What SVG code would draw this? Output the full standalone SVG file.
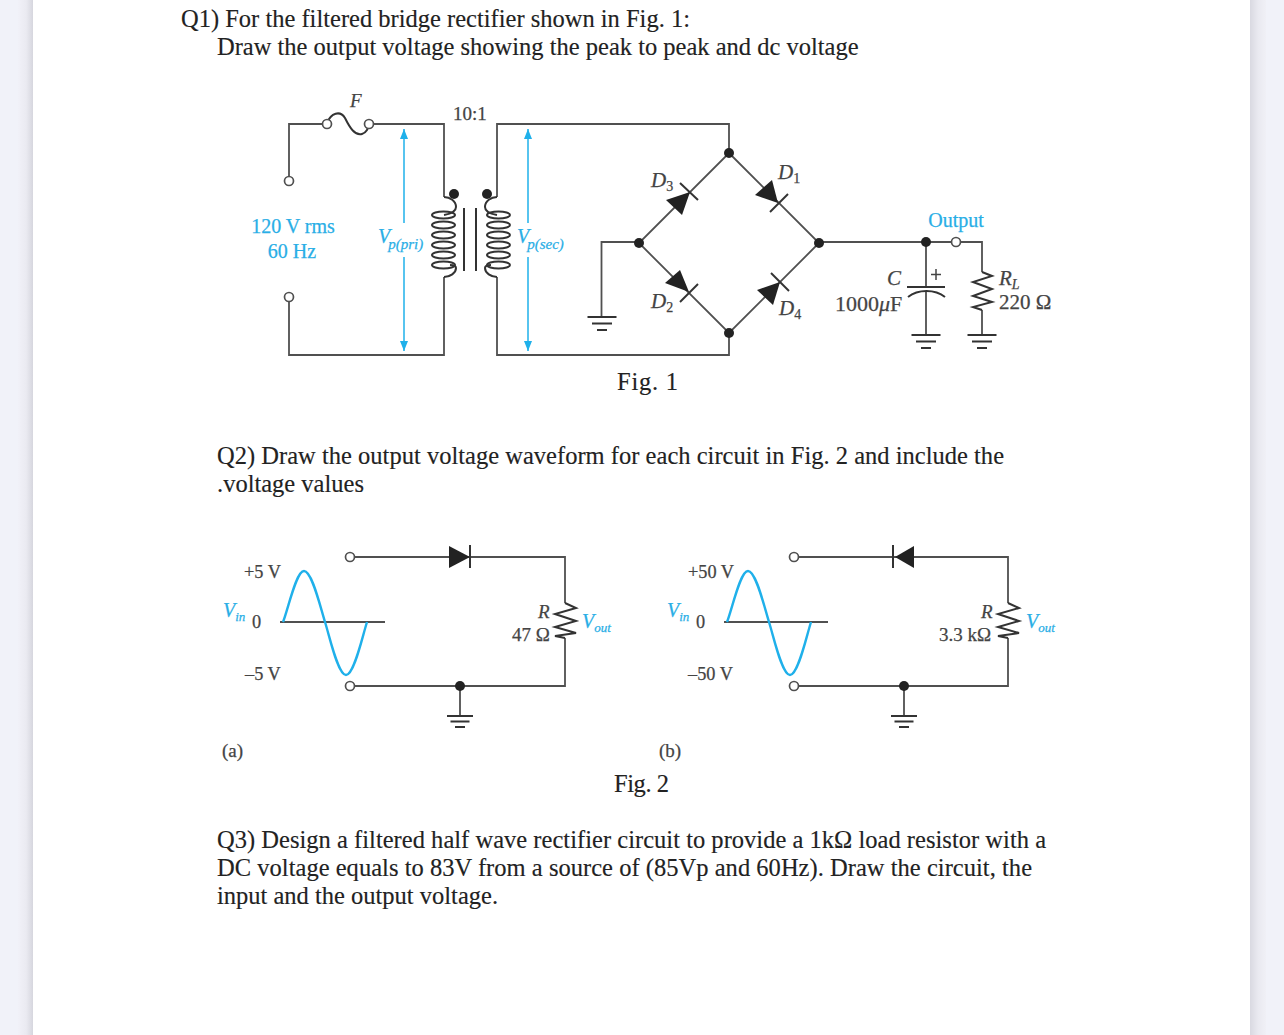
<svg xmlns="http://www.w3.org/2000/svg" width="1284" height="1035" viewBox="0 0 1284 1035">
<defs>
<style>
.w{fill:none;stroke:#505050;stroke-width:1.8}
.b{fill:none;stroke:#1fb0ea;stroke-width:1.5}
.s{fill:none;stroke:#1fb0ea;stroke-width:2.4}
.t{font-family:"Liberation Serif",serif;font-size:24.5px;fill:#222;stroke:#222;stroke-width:.15}
.l{font-family:"Liberation Serif",serif;font-size:19px;fill:#444;stroke:#444;stroke-width:.25}
.m{font-size:18.3px}
.n{font-size:21px}
.c{font-family:"Liberation Serif",serif;font-size:20px;fill:#29aee6;stroke:#29aee6;stroke-width:.25}
.o{fill:#fff;stroke:#505050;stroke-width:1.7}
.d{fill:#222}
.k{fill:none;stroke:#333;stroke-width:2}
</style>
<linearGradient id="sl" x1="0" x2="1" y1="0" y2="0"><stop offset="0" stop-color="#f1f1f8"/><stop offset=".55" stop-color="#eaeaf1"/><stop offset="1" stop-color="#d6d6de"/></linearGradient>
<linearGradient id="sr" x1="0" x2="1" y1="0" y2="0"><stop offset="0" stop-color="#d9d9e1"/><stop offset=".5" stop-color="#e9e9f0"/><stop offset="1" stop-color="#f0f0f6"/></linearGradient>
<marker id="a" markerWidth="10" markerHeight="8" refX="10" refY="4" orient="auto" markerUnits="userSpaceOnUse" viewBox="0 0 10 8"><path d="M0 0L10 4L0 8Z" fill="#1fb0ea"/></marker>
<g id="gnd"><path d="M-14.500 0H14.500M-10 6.500H10M-5 13H5" fill="none" stroke="#333" stroke-width="2.200"/></g>
<g id="gnd2"><path d="M-13 0H13M-9.500 5.500H9.500M-5 11H5" fill="none" stroke="#333" stroke-width="2"/></g>
<path id="sine" d="M0 0C5-12 13-51 21-51C29-51 37-16 42 0C47 16 55 53 63 53C71 53 79 16 84 0"/>
</defs>
<rect width="1284" height="1035" fill="#f1f2f9"/>
<rect x="18" y="0" width="15" height="1035" fill="url(#sl)"/>
<rect x="1250" y="0" width="16" height="1035" fill="url(#sr)"/>
<rect x="33" y="0" width="1217" height="1035" fill="#fff"/>
<g id="text">
<text class="t" x="181" y="27">Q1) For the filtered bridge rectifier shown in Fig. 1:</text>
<text class="t" x="217" y="55">Draw the output voltage showing the peak to peak and dc voltage</text>
<text class="t" x="617" y="390" textLength="61">Fig. 1</text>
<text class="t" x="217" y="464" textLength="787">Q2) Draw the output voltage waveform for each circuit in Fig. 2 and include the</text>
<text class="t" x="217" y="492">.voltage values</text>
<text class="t" x="614" y="792" textLength="55">Fig. 2</text>
<text class="t" x="217" y="848" textLength="829">Q3) Design a filtered half wave rectifier circuit to provide a 1kΩ load resistor with a</text>
<text class="t" x="217" y="876" textLength="815">DC voltage equals to 83V from a source of (85Vp and 60Hz). Draw the circuit, the</text>
<text class="t" x="217" y="904">input and the output voltage.</text>
</g>
<g id="connectors">
<path class="w" d="M289 177V124H323M373 124H444V197M444 277V355H289V301"/>
<path class="w" d="M497 197V124H729V153M497 277V355H729V333"/>
<path class="w" d="M729 153L819 243L729 333L639 243Z"/>
<path class="w" d="M639 242H601.500V316M819 242H951M961 242H982V272M982 310V335M926 242V287M926 291V335"/>
<path class="w" d="M354 557H565V603M565 638V686H354M460 686V716"/>
<path class="w" d="M798 557H1008V603M1008 638V686H798M904 686V716"/>
<path class="w" d="M280 622H385M724 622H828"/>
<path class="b" d="M404 223V129" marker-end="url(#a)"/><path class="b" d="M404 257V351" marker-end="url(#a)"/>
<path class="b" d="M528 223V129" marker-end="url(#a)"/><path class="b" d="M528 257V351" marker-end="url(#a)"/>
</g>
<g id="fuse"><path class="k" d="M327 123C331 113 340 110 345 118C350 128 355 136 362 134C366 133 369 128 369 123"/><circle class="o" cx="327" cy="124" r="4.500"/><circle class="o" cx="369" cy="124" r="4.500"/><text class="l" x="350" y="107" font-style="italic">F</text></g>
<g id="source"><circle class="o" cx="289" cy="181" r="4.500"/><circle class="o" cx="289" cy="297" r="4.500"/>
<text class="c" x="293" y="233" text-anchor="middle">120 V rms</text><text class="c" x="292" y="258" text-anchor="middle">60 Hz</text></g>
<g id="transformer">
<text class="l" x="453" y="120">10:1</text>
<circle class="d" cx="454" cy="194" r="5"/><circle class="d" cx="487" cy="194" r="5"/>
<path class="k" d="M444 197C450 197 456 201 456 207C456 212 450 214 444 215M444 277C450 277 456 273 456 268C456 266 453 265 450 265"/>
<path class="k" d="M497 197C491 197 485 201 485 207C485 212 491 214 497 215M497 277C491 277 485 273 485 268C485 266 488 265 491 265"/>
<g class="k"><ellipse cx="443.500" cy="215" rx="11.500" ry="3.500"/><ellipse cx="443.500" cy="225" rx="11.500" ry="3.500"/><ellipse cx="443.500" cy="235" rx="11.500" ry="3.500"/><ellipse cx="443.500" cy="245" rx="11.500" ry="3.500"/><ellipse cx="443.500" cy="255" rx="11.500" ry="3.500"/><ellipse cx="443.500" cy="265" rx="11.500" ry="3.500"/>
<ellipse cx="498.500" cy="215" rx="11.500" ry="3.500"/><ellipse cx="498.500" cy="225" rx="11.500" ry="3.500"/><ellipse cx="498.500" cy="235" rx="11.500" ry="3.500"/><ellipse cx="498.500" cy="245" rx="11.500" ry="3.500"/><ellipse cx="498.500" cy="255" rx="11.500" ry="3.500"/><ellipse cx="498.500" cy="265" rx="11.500" ry="3.500"/></g>
<path class="k" d="M464 208V271M476 208V271"/>
<text class="c n" x="378" y="243" font-style="italic">V<tspan font-size="15" dy="6" dx="-2">p(pri)</tspan></text>
<text class="c n" x="517" y="243" font-style="italic">V<tspan font-size="15" dy="6" dx="-2">p(sec)</tspan></text>
</g>
<g id="bridge">
<circle class="d" cx="729" cy="153" r="5"/><circle class="d" cx="729" cy="333" r="5"/><circle class="d" cx="639" cy="243" r="5"/><circle class="d" cx="819" cy="243" r="5"/>
<path class="d" d="M690 192L666 200L682 215Z"/><path class="k" d="M680 183L698 200"/>
<path class="d" d="M778 203L755 195L772 180Z"/><path class="k" d="M770 212L788 194"/>
<path class="d" d="M689 292L665 283L680 270Z"/><path class="k" d="M680 302L698 284"/>
<path class="d" d="M780 282L757 290L773 305Z"/><path class="k" d="M771 273L789 291"/>
<text class="l n" x="651" y="187" font-style="italic">D<tspan font-size="14" dy="4" font-style="normal">3</tspan></text>
<text class="l n" x="778" y="179" font-style="italic">D<tspan font-size="14" dy="4" font-style="normal">1</tspan></text>
<text class="l n" x="651" y="308" font-style="italic">D<tspan font-size="14" dy="4" font-style="normal">2</tspan></text>
<text class="l n" x="779" y="315" font-style="italic">D<tspan font-size="14" dy="4" font-style="normal">4</tspan></text>
<use href="#gnd" x="602" y="317"/>
</g>
<g id="output">
<circle class="d" cx="926" cy="242" r="5"/><circle class="o" cx="956" cy="242" r="4.500"/>
<text class="c" x="956" y="227" text-anchor="middle">Output</text>
<path class="k" d="M907 287H945M908 297C918 289 935 289 945 297"/>
<text class="l n" x="887" y="285" font-style="italic">C</text><text class="l" style="font-size:22px" x="835" y="311">1000<tspan font-style="italic">μ</tspan>F</text>
<path d="M936 269V280M931 274.500H941" stroke="#444" stroke-width="1.500"/>
<use href="#gnd" x="926" y="335"/><use href="#gnd" x="982" y="335"/>
<path class="k" d="M982 272L992 276L973 282L992 289L973 296L992 302L973 307L982 310"/>
<text class="l n" x="999" y="285" font-style="italic">R<tspan font-size="14" dy="4">L</tspan></text>
<text class="l n" x="999" y="309">220 Ω</text>
</g>
<g id="circuit-a">
<circle class="o" cx="350" cy="557" r="4.500"/><circle class="o" cx="350" cy="686" r="4.500"/><circle class="d" cx="460" cy="686" r="5"/>
<path class="d" d="M449 546V568L470 557Z"/><path class="k" d="M470 545V568"/>
<use class="s" href="#sine" x="283" y="622"/>
<use href="#gnd2" x="460" y="716"/>
<path class="k" d="M565 603L576 608L555 614L576 621L555 627L576 633L555 636L565 638"/>
<text class="l m" x="244" y="578">+5 V</text><text class="l m" x="245" y="680">–5 V</text><text class="l m" x="252" y="628">0</text>
<text class="l" x="538" y="618" font-style="italic">R</text><text class="l" x="512" y="641">47 Ω</text>
<text class="c" x="223" y="617" font-style="italic">V<tspan font-size="13" dy="4">in</tspan></text>
<text class="c" x="582" y="628" font-style="italic">V<tspan font-size="13" dy="4">out</tspan></text>
<text class="l" x="222" y="757">(a)</text>
</g>
<g id="circuit-b">
<circle class="o" cx="794" cy="557" r="4.500"/><circle class="o" cx="794" cy="686" r="4.500"/><circle class="d" cx="904" cy="686" r="5"/>
<path class="d" d="M914 546V568L895 557Z"/><path class="k" d="M893 545V568"/>
<use class="s" href="#sine" x="727" y="622"/>
<use href="#gnd2" x="904" y="716"/>
<path class="k" d="M1008 603L1019 608L998 614L1019 621L998 627L1019 633L998 636L1008 638"/>
<text class="l m" x="688" y="578">+50 V</text><text class="l m" x="688" y="680">–50 V</text><text class="l m" x="696" y="628">0</text>
<text class="l" x="981" y="618" font-style="italic">R</text><text class="l" x="939" y="641">3.3 kΩ</text>
<text class="c" x="667" y="617" font-style="italic">V<tspan font-size="13" dy="4">in</tspan></text>
<text class="c" x="1026" y="628" font-style="italic">V<tspan font-size="13" dy="4">out</tspan></text>
<text class="l" x="659" y="757">(b)</text>
</g>
</svg>
